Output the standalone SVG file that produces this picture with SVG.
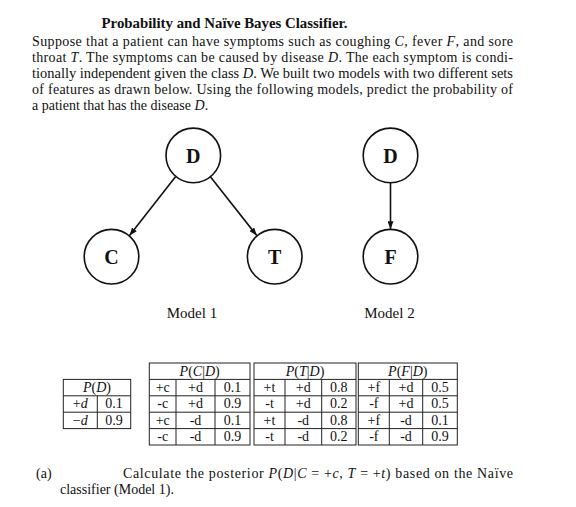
<svg xmlns="http://www.w3.org/2000/svg" width="576" height="507" viewBox="0 0 576 507">
<style>
  .txt { font-family: "Liberation Serif", "Times New Roman", serif; font-size: 14px; fill: #111; }
  .ttl { font-family: "Liberation Serif", "Times New Roman", serif; font-size: 14px; font-weight: bold; fill: #111; }
  .it { font-style: italic; }
  .node { fill: #fff; stroke: #111; stroke-width: 1.6; }
  .nlab { font-family: "Liberation Serif", "Times New Roman", serif; font-size: 20px; font-weight: bold; fill: #111; text-anchor: middle; }
  .mlab { font-family: "Liberation Serif", "Times New Roman", serif; font-size: 15px; fill: #111; text-anchor: middle; }
  .edge { stroke: #111; stroke-width: 1.6; fill: none; }
  .grid { stroke: #222; stroke-width: 1; fill: none; }
  .cell { font-family: "Liberation Serif", "Times New Roman", serif; font-size: 14px; fill: #111; text-anchor: middle; }
</style>
<defs>
  <marker id="arr" markerWidth="8" markerHeight="6" refX="8" refY="3" orient="auto" markerUnits="userSpaceOnUse">
    <path d="M0,0 L8,3 L0,6 z" fill="#111"/>
  </marker>
</defs>
<rect width="576" height="507" fill="#fff"/>

<g id="text">
  <text class="ttl" x="101.5" y="28" textLength="246" lengthAdjust="spacingAndGlyphs">Probability and Naïve Bayes Classifier.</text>
  <text class="txt" x="32" y="45.5" textLength="481" lengthAdjust="spacing">Suppose that a patient can have symptoms such as coughing <tspan class="it">C</tspan>, fever <tspan class="it">F</tspan>, and sore</text>
  <text class="txt" x="32" y="61.7" textLength="481" lengthAdjust="spacing">throat <tspan class="it">T</tspan>. The symptoms can be caused by disease <tspan class="it">D</tspan>. The each symptom is condi-</text>
  <text class="txt" x="32" y="77.9" textLength="481" lengthAdjust="spacingAndGlyphs">tionally independent given the class <tspan class="it">D</tspan>. We built two models with two different sets</text>
  <text class="txt" x="32" y="94.1" textLength="481" lengthAdjust="spacing">of features as drawn below. Using the following models, predict the probability of</text>
  <text class="txt" x="32" y="110.3">a patient that has the disease <tspan class="it">D</tspan>.</text>
</g>

<g id="connectors">
  <line class="edge" x1="175.5" y1="176.8" x2="129.5" y2="235.6" marker-end="url(#arr)"/>
  <line class="edge" x1="210.4" y1="176.7" x2="256.8" y2="235.6" marker-end="url(#arr)"/>
  <line class="edge" x1="390.5" y1="182.7" x2="390.5" y2="229.2" marker-end="url(#arr)"/>
</g>

<g id="node-D1">
  <circle class="node" cx="193.3" cy="155.4" r="27.3"/>
  <text class="nlab" x="193.3" y="162.5">D</text>
</g>
<g id="node-C">
  <circle class="node" cx="111.5" cy="256.7" r="27.3"/>
  <text class="nlab" x="111.5" y="264">C</text>
</g>
<g id="node-T">
  <circle class="node" cx="274.7" cy="256.7" r="27.3"/>
  <text class="nlab" x="274.7" y="264">T</text>
</g>
<g id="node-D2">
  <circle class="node" cx="390.5" cy="155.4" r="27.3"/>
  <text class="nlab" x="390.5" y="162.5">D</text>
</g>
<g id="node-F">
  <circle class="node" cx="390.5" cy="256.7" r="27.3"/>
  <text class="nlab" x="390.5" y="264">F</text>
</g>

<g id="model-labels">
  <text class="mlab" x="192" y="318">Model 1</text>
  <text class="mlab" x="389.5" y="318">Model 2</text>
</g>

<g id="table-PD">
  <rect class="grid" x="63.3" y="379.4" width="67.4" height="49.2"/>
  <line class="grid" x1="63.3" y1="395.8" x2="130.7" y2="395.8"/>
  <line class="grid" x1="63.3" y1="412.2" x2="130.7" y2="412.2"/>
  <line class="grid" x1="97.3" y1="395.8" x2="97.3" y2="428.6"/>
  <text class="cell" x="97" y="391.9"><tspan class="it">P</tspan>(<tspan class="it">D</tspan>)</text>
  <text class="cell" x="80.3" y="408.4">+<tspan class="it">d</tspan></text>
  <text class="cell" x="114" y="408.4">0.1</text>
  <text class="cell" x="80.3" y="424.8">−<tspan class="it">d</tspan></text>
  <text class="cell" x="114" y="424.8">0.9</text>
</g>

<g id="table-PCD">
  <rect class="grid" x="149.3" y="363" width="100.7" height="82"/>
  <line class="grid" x1="149.3" y1="379.4" x2="250" y2="379.4"/>
  <line class="grid" x1="149.3" y1="395.8" x2="250" y2="395.8"/>
  <line class="grid" x1="149.3" y1="412.2" x2="250" y2="412.2"/>
  <line class="grid" x1="149.3" y1="428.6" x2="250" y2="428.6"/>
  <line class="grid" x1="176" y1="379.4" x2="176" y2="445"/>
  <line class="grid" x1="215" y1="379.4" x2="215" y2="445"/>
  <text class="cell" x="199.7" y="375.5"><tspan class="it">P</tspan>(<tspan class="it">C</tspan>|<tspan class="it">D</tspan>)</text>
  <text class="cell" x="162.7" y="391.9">+c</text><text class="cell" x="195.5" y="391.9">+d</text><text class="cell" x="232.5" y="391.9">0.1</text>
  <text class="cell" x="162.7" y="408.3">-c</text><text class="cell" x="195.5" y="408.3">+d</text><text class="cell" x="232.5" y="408.3">0.9</text>
  <text class="cell" x="162.7" y="424.7">+c</text><text class="cell" x="195.5" y="424.7">-d</text><text class="cell" x="232.5" y="424.7">0.1</text>
  <text class="cell" x="162.7" y="441.1">-c</text><text class="cell" x="195.5" y="441.1">-d</text><text class="cell" x="232.5" y="441.1">0.9</text>
</g>

<g id="table-PTD">
  <rect class="grid" x="254" y="363" width="102" height="82"/>
  <line class="grid" x1="254" y1="379.4" x2="356" y2="379.4"/>
  <line class="grid" x1="254" y1="395.8" x2="356" y2="395.8"/>
  <line class="grid" x1="254" y1="412.2" x2="356" y2="412.2"/>
  <line class="grid" x1="254" y1="428.6" x2="356" y2="428.6"/>
  <line class="grid" x1="285" y1="379.4" x2="285" y2="445"/>
  <line class="grid" x1="321.7" y1="379.4" x2="321.7" y2="445"/>
  <text class="cell" x="305" y="375.5"><tspan class="it">P</tspan>(<tspan class="it">T</tspan>|<tspan class="it">D</tspan>)</text>
  <text class="cell" x="269.5" y="391.9">+t</text><text class="cell" x="303.3" y="391.9">+d</text><text class="cell" x="338.8" y="391.9">0.8</text>
  <text class="cell" x="269.5" y="408.3">-t</text><text class="cell" x="303.3" y="408.3">+d</text><text class="cell" x="338.8" y="408.3">0.2</text>
  <text class="cell" x="269.5" y="424.7">+t</text><text class="cell" x="303.3" y="424.7">-d</text><text class="cell" x="338.8" y="424.7">0.8</text>
  <text class="cell" x="269.5" y="441.1">-t</text><text class="cell" x="303.3" y="441.1">-d</text><text class="cell" x="338.8" y="441.1">0.2</text>
</g>

<g id="table-PFD">
  <rect class="grid" x="358.3" y="363" width="99" height="82"/>
  <line class="grid" x1="358.3" y1="379.4" x2="457.3" y2="379.4"/>
  <line class="grid" x1="358.3" y1="395.8" x2="457.3" y2="395.8"/>
  <line class="grid" x1="358.3" y1="412.2" x2="457.3" y2="412.2"/>
  <line class="grid" x1="358.3" y1="428.6" x2="457.3" y2="428.6"/>
  <line class="grid" x1="389.3" y1="379.4" x2="389.3" y2="445"/>
  <line class="grid" x1="422.7" y1="379.4" x2="422.7" y2="445"/>
  <text class="cell" x="407.8" y="375.5"><tspan class="it">P</tspan>(<tspan class="it">F</tspan>|<tspan class="it">D</tspan>)</text>
  <text class="cell" x="373.8" y="391.9">+f</text><text class="cell" x="406" y="391.9">+d</text><text class="cell" x="440" y="391.9">0.5</text>
  <text class="cell" x="373.8" y="408.3">-f</text><text class="cell" x="406" y="408.3">+d</text><text class="cell" x="440" y="408.3">0.5</text>
  <text class="cell" x="373.8" y="424.7">+f</text><text class="cell" x="406" y="424.7">-d</text><text class="cell" x="440" y="424.7">0.1</text>
  <text class="cell" x="373.8" y="441.1">-f</text><text class="cell" x="406" y="441.1">-d</text><text class="cell" x="440" y="441.1">0.9</text>
</g>

<g id="question">
  <text class="txt" x="36" y="477.5">(a)</text>
  <text class="txt" x="123" y="477.5" textLength="390" lengthAdjust="spacing">Calculate the posterior <tspan class="it">P</tspan>(<tspan class="it">D</tspan>|<tspan class="it">C</tspan> = +<tspan class="it">c</tspan>, <tspan class="it">T</tspan> = +<tspan class="it">t</tspan>) based on the Naïve</text>
  <text class="txt" x="60" y="493.5">classifier (Model 1).</text>
</g>
</svg>
